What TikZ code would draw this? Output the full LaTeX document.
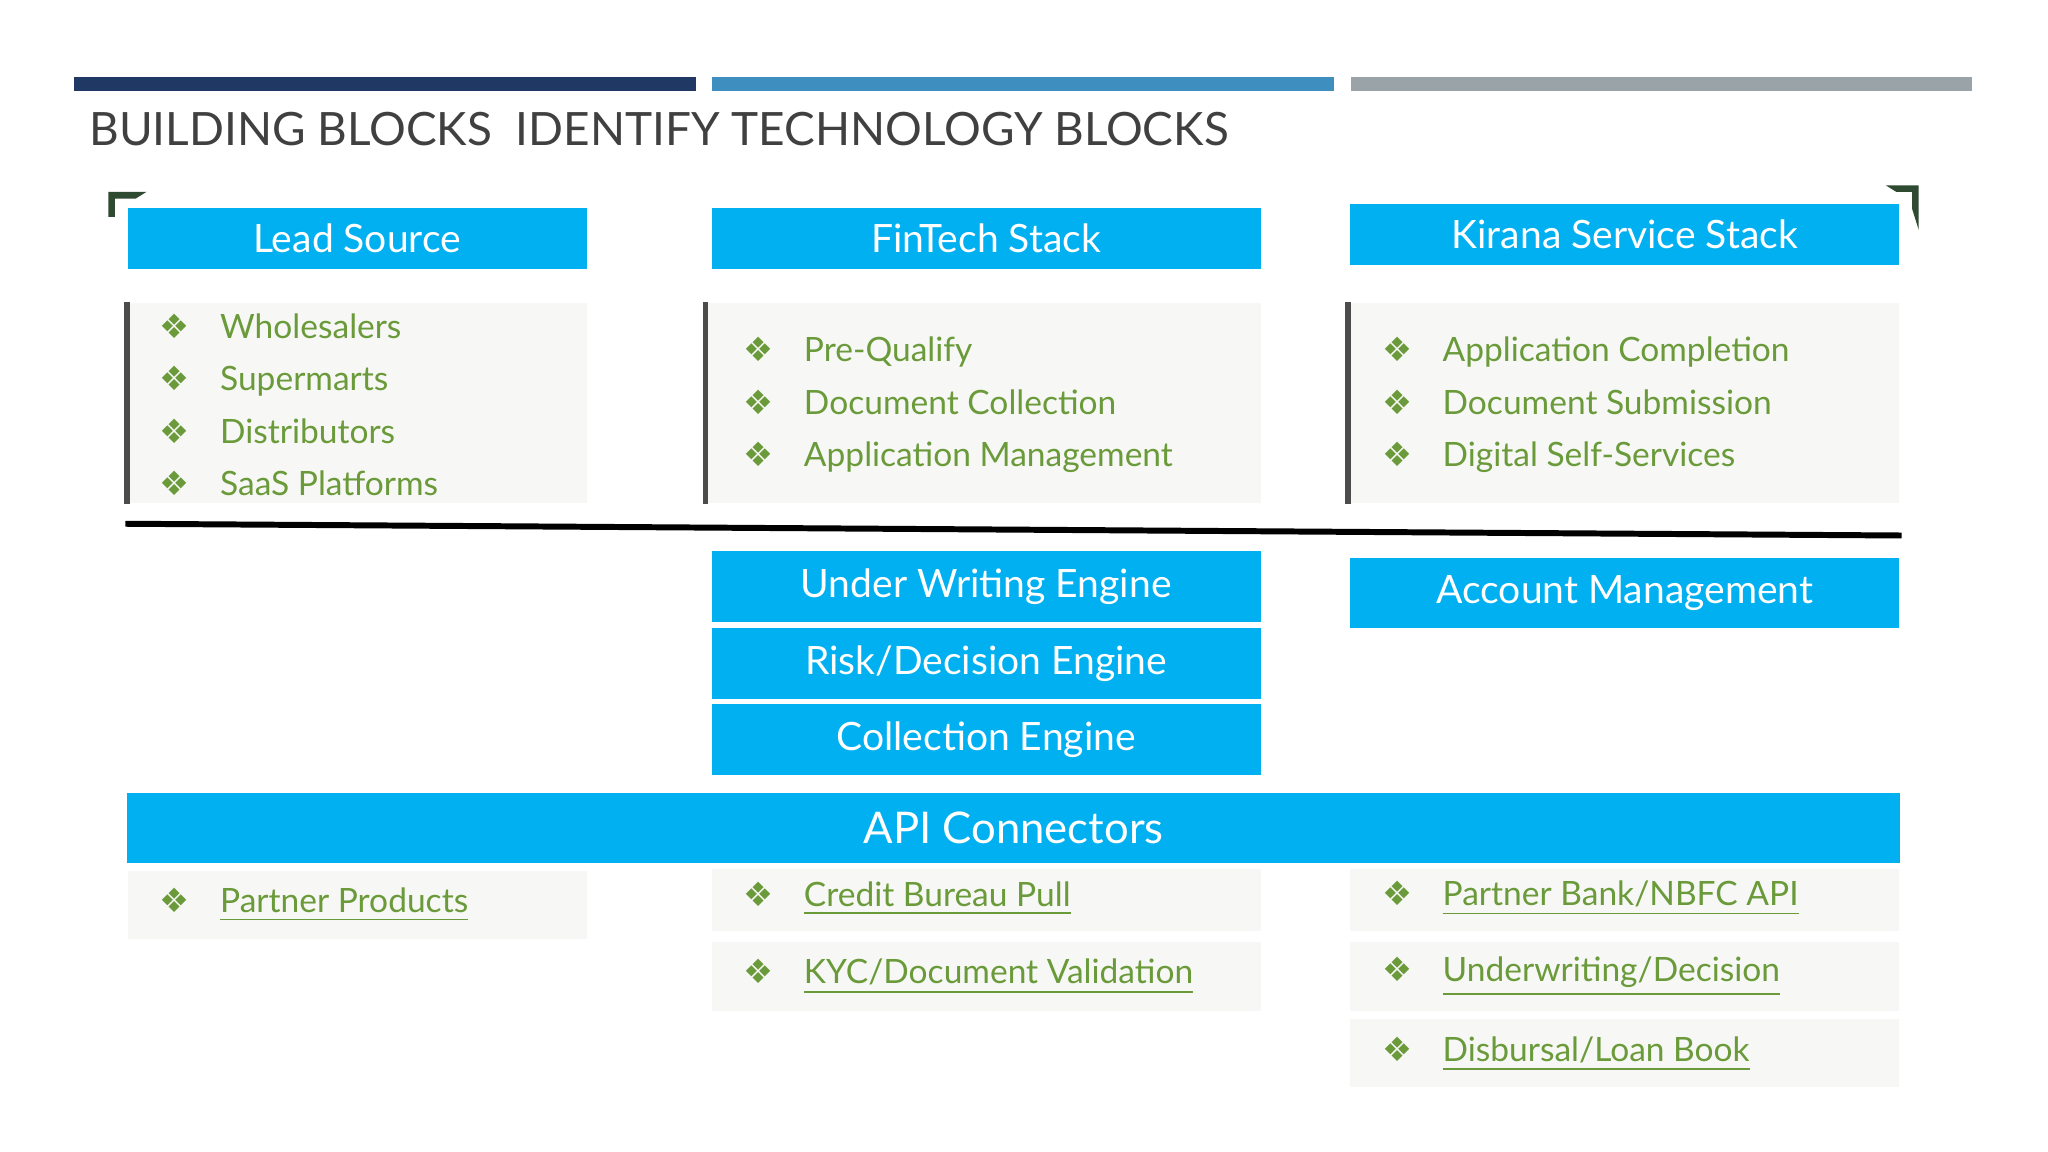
\documentclass[tikz,border=0pt]{standalone}
\usepackage{fontspec}
\setmainfont{Lato}
\newfontfamily\symfont{DejaVu Sans}
\usetikzlibrary{positioning}
\definecolor{navy}{HTML}{1F3864}
\definecolor{steel}{HTML}{3E8EBF}
\definecolor{slate}{HTML}{9AA3A8}
\definecolor{cyanbox}{HTML}{00B0F0}
\definecolor{leaf}{HTML}{6A9A3A}
\definecolor{panel}{HTML}{F7F8F5}
\definecolor{corner}{HTML}{2E4A30}
\newcommand{\dia}{{\symfont\char"2756}\hspace{0.9em}}
\tikzset{
	head/.style={fill=cyanbox, text=white, inner sep=0pt, font=\fontsize{8.5}{10}\selectfont},
	sheet/.style={fill=panel, inner sep=0pt},
	item/.style={text=leaf, anchor=west, align=left, font=\fontsize{7.3}{9.2}\selectfont},
}
\begin{document}
\begin{tikzpicture}[x=0.01cm,y=-0.01cm]
	\useasboundingbox (0,0) rectangle (1568,882);
	\fill[white] (0,0) rectangle (1568,882);
	% top bars
	\fill[navy] (57,59) rectangle (533,70);
	\fill[steel] (545,59) rectangle (1021,70);
	\fill[slate] (1034,59) rectangle (1510,70);
	\node[anchor=west, text=black!75, font=\fontsize{10}{12}\selectfont] (title) at (56,99) {BUILDING BLOCKS\ \ IDENTIFY TECHNOLOGY BLOCKS};
	% corners
	\fill[corner] (83,147) -- (112,147) -- (104,152) -- (88,152) -- (88,166) -- (83,166) -- cycle;
	\fill[corner] (1469,142) -- (1444,142) -- (1452,147) -- (1464,147) -- (1464,160) -- (1469,176) -- cycle;

	% headers
	\node[head, minimum width=3.51cm, minimum height=0.47cm] (lead) at (273.5,182.5) {Lead Source};
	\node[head, minimum width=4.2cm, minimum height=0.47cm] (fintech) at (755,182.5) {FinTech Stack};
	\node[head, minimum width=4.2cm, minimum height=0.47cm] (kirana) at (1244,179.5) {Kirana Service Stack};

	% panels
	\node[sheet, minimum width=3.51cm, minimum height=1.53cm] (leadp) at (273.5,308.5) {};
	\node[sheet, minimum width=4.24cm, minimum height=1.53cm] (finp) at (753,308.5) {};
	\node[sheet, minimum width=4.21cm, minimum height=1.53cm] (kirp) at (1243.5,308.5) {};
	\draw[black!70, line width=1.2pt] (leadp.north west) -- (leadp.south west);
	\draw[black!70, line width=1.2pt] (finp.north west) -- (finp.south west);
	\draw[black!70, line width=1.2pt] (kirp.north west) -- (kirp.south west);
	\node[item] (leadl) at (110,310) {\dia Wholesalers\\[0.3em]\dia Supermarts\\[0.3em]\dia Distributors\\[0.3em]\dia SaaS Platforms};
	\node[item] (finl) at (557,310) {\dia Pre-Qualify\\[0.3em]\dia Document Collection\\[0.3em]\dia Application Management};
	\node[item] (kirl) at (1046,310) {\dia Application Completion\\[0.3em]\dia Document Submission\\[0.3em]\dia Digital Self-Services};

	% divider
	\coordinate (divl) at (96,401);
	\coordinate (divr) at (1456,410);
	\draw[line width=1.3pt] (divl) -- (divr);

	% engines
	\node[head, minimum width=4.2cm, minimum height=0.54cm] (uw) at (755,449) {Under Writing Engine};
	\node[head, minimum width=4.2cm, minimum height=0.54cm] (risk) at (755,508) {Risk/Decision Engine};
	\node[head, minimum width=4.2cm, minimum height=0.54cm] (coll) at (755,566) {Collection Engine};
	\node[head, minimum width=4.2cm, minimum height=0.54cm] (acct) at (1244,454) {Account Management};
	\node[head, minimum width=13.56cm, minimum height=0.54cm, font=\fontsize{9.5}{11}\selectfont] (api) at (776,634) {API Connectors};

	% connector panels
	\node[sheet, minimum width=3.51cm, minimum height=0.52cm] (pp) at (273.5,693) {};
	\node[sheet, minimum width=4.2cm, minimum height=0.48cm] (cb) at (755,689) {};
	\node[sheet, minimum width=4.2cm, minimum height=0.53cm] (kyc) at (755,747.5) {};
	\node[sheet, minimum width=4.2cm, minimum height=0.48cm] (pb) at (1244,689) {};
	\node[sheet, minimum width=4.2cm, minimum height=0.53cm] (uwd) at (1244,747.5) {};
	\node[sheet, minimum width=4.2cm, minimum height=0.52cm] (db) at (1244,806) {};
	\node[item] at (110,693) {\dia\underline{Partner Products}};
	\node[item] at (557,688) {\dia\underline{Credit Bureau Pull}};
	\node[item] at (557,748) {\dia\underline{KYC/Document Validation}};
	\node[item] at (1046,688) {\dia\underline{Partner Bank/NBFC API}};
	\node[item] at (1046,748) {\dia\underline{Underwriting/Decision}};
	\node[item] at (1046,807) {\dia\underline{Disbursal/Loan Book}};
\end{tikzpicture}
\end{document}
